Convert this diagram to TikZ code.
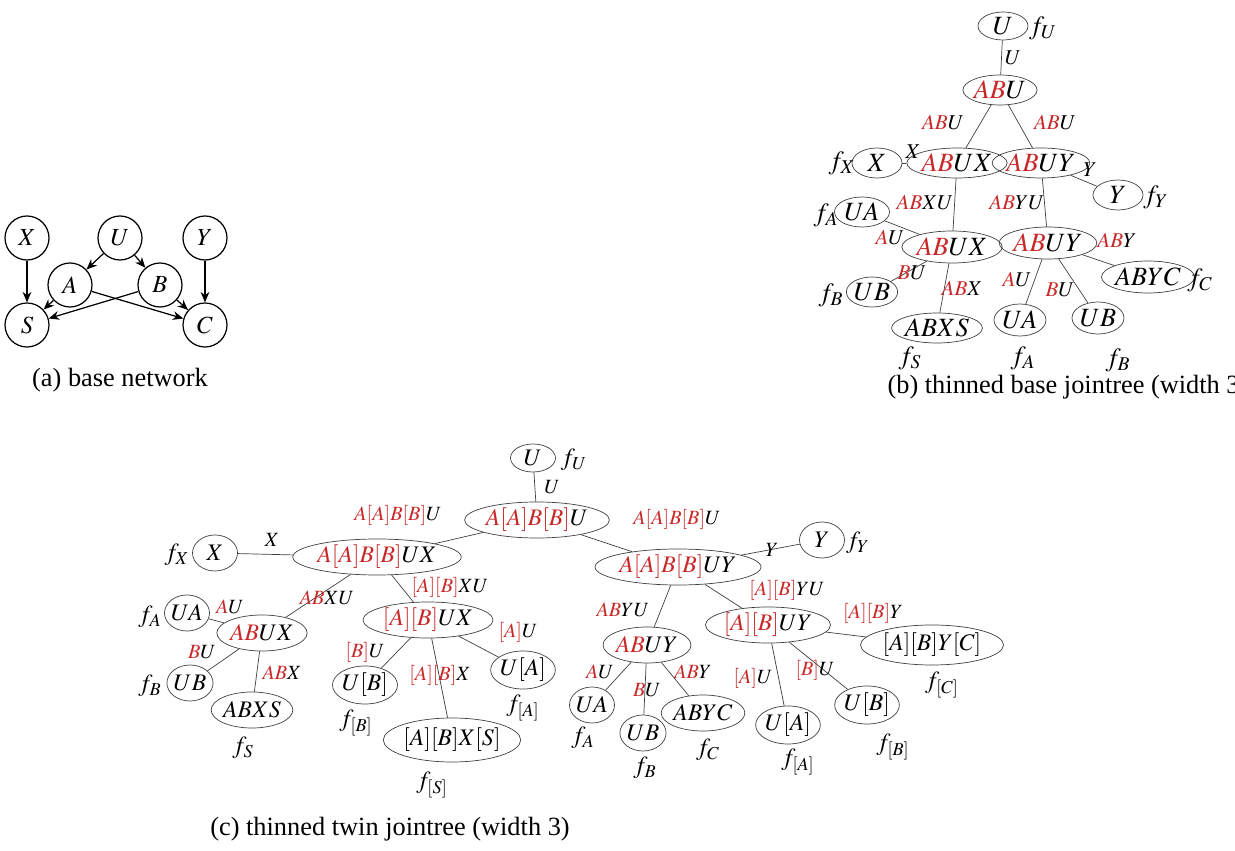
\documentclass[tikz,border=0pt]{standalone}
\usepackage{mathptmx}
\usepackage{fontspec}
\setmainfont{Liberation Serif}
\usetikzlibrary{shapes.geometric,arrows.meta}
\definecolor{jred}{RGB}{200,40,40}
\newcommand\rd[1]{\textcolor{jred}{#1}}
\begin{document}
\begin{tikzpicture}[x=0.02cm,y=-0.02cm,
  cir/.style={circle,draw,line width=0.7pt,minimum size=0.88cm,inner sep=0pt,font=\fontsize{14}{16}\selectfont},
  arr/.style={-{Stealth[length=6pt,width=5pt]},line width=0.7pt},
  eb/.style 2 args={ellipse,draw=black!75,line width=0.4pt,inner sep=0pt,minimum width=#1*0.02cm,minimum height=#2*0.02cm,font=\fontsize{15}{17}\selectfont},
  ec/.style 2 args={ellipse,draw=black!75,line width=0.4pt,inner sep=0pt,minimum width=#1*0.02cm,minimum height=#2*0.02cm,font=\fontsize{13.5}{15}\selectfont},
  lb/.style={inner sep=0pt,font=\fontsize{12}{14}\selectfont},
  lc/.style={inner sep=0pt,font=\fontsize{11.5}{13}\selectfont},
  fb/.style={inner sep=0pt,font=\fontsize{15}{17}\selectfont},
  fc/.style={inner sep=0pt,font=\fontsize{14}{16}\selectfont},
  captext/.style={inner sep=0pt,font=\fontsize{15}{18}\selectfont},
  ed/.style={draw=black!75,line width=0.4pt}]
\useasboundingbox (0,0) rectangle (1235,851);
% (a)
\node[cir] (aX) at (27,238) {$X$};
\node[cir] (aU) at (120,238) {$U$};
\node[cir] (aY) at (205,238) {$Y$};
\node[cir] (aA) at (70,285) {$A$};
\node[cir] (aB) at (160,285) {$B$};
\node[cir] (aS) at (27,325) {$S$};
\node[cir] (aC) at (205,325) {$C$};
\draw[arr] (aX)--(aS); \draw[arr] (aU)--(aA); \draw[arr] (aU)--(aB);
\draw[arr] (aY)--(aC); \draw[arr] (aA)--(aS); \draw[arr] (aA)--(aC);
\draw[arr] (aB)--(aS); \draw[arr] (aB)--(aC);
\node[captext] (capa) at (120,380) {(a) base network};
% (b)
\node[eb={50}{28}] (bU) at (1003,26) {$U$};
\node[fb] (bfU) at (1043,28) {$f_U$};
\node[eb={63}{30}] (bABU) at (1000,90) {$\rd{AB}U$};
\node[eb={76}{30}] (bABUX) at (957,163) {$\rd{AB}UX$};
\node[eb={76}{30}] (bABUY) at (1041,163) {$\rd{AB}UY$};
\node[eb={50}{30}] (bX) at (877,163) {$X$};
\node[fb] (bfX) at (842,163) {$f_X$};
\node[eb={50}{30}] (bY) at (1118,195) {$Y$};
\node[fb] (bfY) at (1156,197) {$f_Y$};
\node[eb={55}{30}] (bUA) at (862,212) {$UA$};
\node[fb] (bfA) at (826,215) {$f_A$};
\node[eb={83}{32}] (bABUX2) at (952,247) {$\rd{AB}UX$};
\node[eb={50}{30}] (bUB) at (872,292) {$UB$};
\node[fb] (bfB) at (831,295) {$f_B$};
\node[eb={73}{30}] (bABXS) at (937,328) {$ABXS$};
\node[fb] (bfS) at (910,358) {$f_S$};
\node[eb={80}{32}] (bABUY2) at (1048,243) {$\rd{AB}UY$};
\node[eb={78}{32}] (bABYC) at (1148,277) {$ABYC$};
\node[fb] (bfC) at (1200,280) {$f_C$};
\node[eb={52}{32}] (bUA2) at (1020,320) {$UA$};
\node[fb] (bfA2) at (1023,358) {$f_A$};
\node[eb={52}{32}] (bUB2) at (1098,318) {$UB$};
\node[fb] (bfB2) at (1118,360) {$f_B$};
\draw[ed] (bU)--(bABU); \draw[ed] (bABU)--(bABUX); \draw[ed] (bABU)--(bABUY);
\draw[ed] (bX)--(bABUX); \draw[ed] (bABUY)--(bY); \draw[ed] (bABUX)--(bABUX2);
\draw[ed] (bUA)--(bABUX2); \draw[ed] (bUB)--(bABUX2); \draw[ed] (bABUX2)--(bABXS);
\draw[ed] (bABUY)--(bABUY2); \draw[ed] (bABUY2)--(bABYC); \draw[ed] (bABUY2)--(bUA2);
\draw[ed] (bABUY2)--(bUB2);
\node[lb] (l1) at (1013,58) {$U$};
\node[lb] (l2) at (943,123) {$\rd{AB}U$};
\node[lb] (l3) at (1055,123) {$\rd{AB}U$};
\node[lb] (l4) at (913,152) {$X$};
\node[lb] (l5) at (1090,170) {$Y$};
\node[lb] (l6) at (925,203) {$\rd{AB}XU$};
\node[lb] (l7) at (1017,203) {$\rd{AB}YU$};
\node[lb] (l8) at (890,238) {$\rd{A}U$};
\node[lb] (l9) at (912,273) {$\rd{B}U$};
\node[lb] (l10) at (962,288) {$\rd{AB}X$};
\node[lb] (l11) at (1117,240) {$\rd{AB}Y$};
\node[lb] (l12) at (1017,280) {$\rd{A}U$};
\node[lb] (l13) at (1060,290) {$\rd{B}U$};
\node[captext] (capb) at (1068,387) {(b) thinned base jointree (width 3)};
% (c)
\node[ec={45}{28}] (cU) at (533,458) {$U$};
\node[fc] (cfU) at (574,460) {$f_U$};
\node[ec={133}{36}] (cR) at (537,520) {$\rd{A[A]B[B]}U$};
\node[ec={152}{36}] (cL) at (377,557) {$\rd{A[A]B[B]}UX$};
\node[ec={45}{36}] (cX) at (215,553) {$X$};
\node[fc] (cfX) at (177,555) {$f_X$};
\node[ec={45}{36}] (cUA) at (187,613) {$UA$};
\node[fc] (cfA) at (150,617) {$f_A$};
\node[ec={75}{36}] (cABUX) at (262,633) {$\rd{AB}UX$};
\node[ec={45}{36}] (cUB) at (190,683) {$UB$};
\node[fc] (cfB) at (150,686) {$f_B$};
\node[ec={72}{36}] (cABXS) at (252,710) {$ABXS$};
\node[fc] (cfS) at (243,748) {$f_S$};
\node[ec={130}{36}] (cABUXt) at (428,620) {$\rd{[A][B]}UX$};
\node[ec={65}{38}] (cUBt) at (365,685) {$U[B]$};
\node[fc] (cfBt) at (356,723) {$f_{[B]}$};
\node[ec={133}{44}] (cAXS) at (452,740) {$[A][B]X[S]$};
\node[fc] (cfSt) at (432,785) {$f_{[S]}$};
\node[ec={60}{38}] (cUAt) at (523,670) {$U[A]$};
\node[fc] (cfAt) at (523,708) {$f_{[A]}$};
\node[ec={160}{36}] (cRY) at (678,567) {$\rd{A[A]B[B]}UY$};
\node[ec={45}{36}] (cY) at (822,540) {$Y$};
\node[fc] (cfY) at (858,543) {$f_Y$};
\node[ec={78}{36}] (cABUY) at (647,645) {$\rd{AB}UY$};
\node[ec={45}{36}] (cUA2) at (592,705) {$UA$};
\node[fc] (cfA2) at (583,738) {$f_A$};
\node[ec={45}{36}] (cUB2) at (643,733) {$UB$};
\node[fc] (cfB2) at (645,768) {$f_B$};
\node[ec={75}{36}] (cABYC) at (703,713) {$ABYC$};
\node[fc] (cfC) at (708,750) {$f_C$};
\node[ec={125}{36}] (cUYt) at (768,625) {$\rd{[A][B]}UY$};
\node[ec={143}{40}] (cYC) at (932,645) {$[A][B]Y[C]$};
\node[fc] (cfCt) at (942,685) {$f_{[C]}$};
\node[ec={63}{38}] (cUA3) at (788,725) {$U[A]$};
\node[fc] (cfA3) at (798,762) {$f_{[A]}$};
\node[ec={63}{38}] (cUB3) at (867,705) {$U[B]$};
\node[fc] (cfB3) at (893,747) {$f_{[B]}$};
\draw[ed] (cU)--(cR); \draw[ed] (cR)--(cL); \draw[ed] (cR)--(cRY);
\draw[ed] (cX)--(cL); \draw[ed] (cL)--(cABUX); \draw[ed] (cL)--(cABUXt);
\draw[ed] (cUA)--(cABUX); \draw[ed] (cUB)--(cABUX); \draw[ed] (cABUX)--(cABXS);
\draw[ed] (cABUXt)--(cUBt); \draw[ed] (cABUXt)--(cAXS); \draw[ed] (cABUXt)--(cUAt);
\draw[ed] (cRY)--(cY); \draw[ed] (cRY)--(cABUY); \draw[ed] (cRY)--(cUYt);
\draw[ed] (cABUY)--(cUA2); \draw[ed] (cABUY)--(cUB2); \draw[ed] (cABUY)--(cABYC);
\draw[ed] (cUYt)--(cYC); \draw[ed] (cUYt)--(cUA3); \draw[ed] (cUYt)--(cUB3);
\node[lc] (m1) at (552,487) {$U$};
\node[lc] (m2) at (398,515) {$\rd{A[A]B[B]}U$};
\node[lc] (m3) at (677,519) {$\rd{A[A]B[B]}U$};
\node[lc] (m4) at (272,540) {$X$};
\node[lc] (m5) at (772,550) {$Y$};
\node[lc] (m6) at (327,598) {$\rd{AB}XU$};
\node[lc] (m7) at (450,587) {$\rd{[A][B]}XU$};
\node[lc] (m8) at (230,607) {$\rd{A}U$};
\node[lc] (m9) at (202,652) {$\rd{B}U$};
\node[lc] (m10) at (282,673) {$\rd{AB}X$};
\node[lc] (m11) at (365,652) {$\rd{[B]}U$};
\node[lc] (m12) at (440,675) {$\rd{[A][B]}X$};
\node[lc] (m13) at (518,632) {$\rd{[A]}U$};
\node[lc] (m14) at (623,610) {$\rd{AB}YU$};
\node[lc] (m15) at (787,590) {$\rd{[A][B]}YU$};
\node[lc] (m16) at (600,672) {$\rd{A}U$};
\node[lc] (m17) at (647,690) {$\rd{B}U$};
\node[lc] (m18) at (693,672) {$\rd{AB}Y$};
\node[lc] (m19) at (873,613) {$\rd{[A][B]}Y$};
\node[lc] (m20) at (753,678) {$\rd{[A]}U$};
\node[lc] (m21) at (815,670) {$\rd{[B]}U$};
\node[captext] (capc) at (390,829) {(c) thinned twin jointree (width 3)};
\end{tikzpicture}
\end{document}
